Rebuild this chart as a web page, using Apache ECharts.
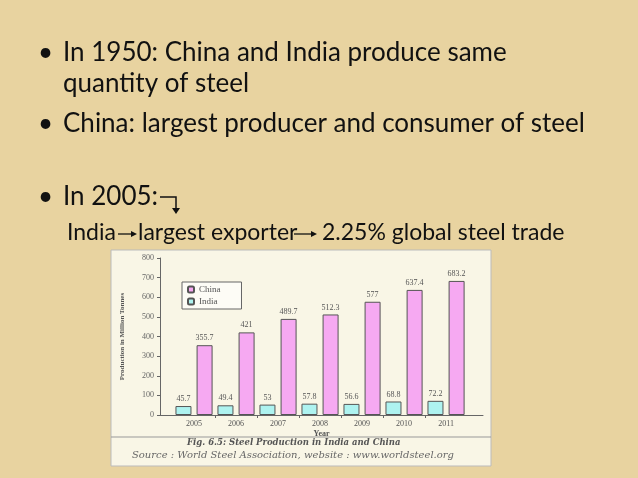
<!DOCTYPE html>
<html>
<head>
<meta charset="utf-8">
<script src="https://cdn.jsdelivr.net/npm/echarts@6/dist/echarts.min.js"></script>
<style>
html,body{margin:0;padding:0;background:#e8d3a0;}
#c{width:638px;height:478px;}
</style>
</head>
<body>
<div id="c"></div>
<script>
const years = [2005, 2006, 2007, 2008, 2009, 2010, 2011];
const china = [355.7, 421, 489.7, 512.3, 577, 637.4, 683.2];
const india = [45.7, 49.4, 53, 57.8, 56.6, 68.8, 72.2];
const yTicks = {min: 0, max: 800, interval: 100};

const slideFont = 'Lato';
const serif = 'Liberation Serif';
const chart = echarts.init(document.getElementById('c'));

function slideText(x, y, s, size) {
  return {type: 'text', left: x, top: y, style: {text: s, font: '400 ' + (size || 26) + 'px ' + slideFont, fill: '#111'}};
}
const pairs = arr => years.map((y, i) => [y, arr[i]]);
const barLabel = {show: true, position: 'top', fontFamily: serif, fontSize: 8, color: '#555', distance: 3,
  formatter: p => String(p.value[1])};

chart.setOption({
  backgroundColor: '#e8d3a0',
  animation: false,
  grid: {left: 160, top: 258, right: 155, bottom: 63},
  legend: {
    data: ['China', 'India'], orient: 'vertical', left: 182, top: 282,
    itemWidth: 6, itemHeight: 6, itemGap: 3,
    borderColor: '#666', borderWidth: 1, backgroundColor: '#fdfcf6',
    padding: [3, 21, 3, 5],
    textStyle: {fontFamily: serif, fontSize: 9, color: '#555'}
  },
  xAxis: {
    type: 'value', min: 2004.19, max: 2011.88,
    name: 'Year', nameLocation: 'middle', nameGap: 15,
    nameTextStyle: {fontFamily: serif, fontSize: 8, fontWeight: 'bold', color: '#555'},
    axisLine: {lineStyle: {color: '#666'}},
    axisTick: {show: true, length: 3, lineStyle: {color: '#666'},
      customValues: [2005.5, 2006.5, 2007.5, 2008.5, 2009.5, 2010.5]},
    splitLine: {show: false},
    axisLabel: {fontFamily: serif, fontSize: 8, color: '#555', margin: 5,
      customValues: years, formatter: v => String(v)}
  },
  yAxis: {
    type: 'value', min: yTicks.min, max: yTicks.max, interval: yTicks.interval,
    name: 'Production in Million Tonnes', nameLocation: 'middle', nameGap: 34,
    nameTextStyle: {fontFamily: serif, fontSize: 7, fontWeight: 'bold', color: '#555'},
    axisLine: {show: true, lineStyle: {color: '#666'}},
    axisTick: {show: true, length: 3, lineStyle: {color: '#666'}},
    splitLine: {show: false},
    axisLabel: {fontFamily: serif, fontSize: 8, color: '#666', margin: 6}
  },
  series: [
    {name: 'India', type: 'bar', data: pairs(india), barWidth: 16, barGap: '32%',
     itemStyle: {color: '#aef3f0', borderColor: '#555', borderWidth: 1}, label: barLabel},
    {name: 'China', type: 'bar', data: pairs(china), barWidth: 16,
     itemStyle: {color: '#f6a9f2', borderColor: '#555', borderWidth: 1}, label: barLabel}
  ],
  graphic: [
    {type: 'rect', z: -10, shape: {x: 111, y: 250, width: 380, height: 216},
     style: {fill: '#f9f6e6', stroke: '#bbb', lineWidth: 1}},
    {type: 'line', z: -9, shape: {x1: 111, y1: 437, x2: 491, y2: 437}, style: {stroke: '#999', lineWidth: 1}},
    {type: 'text', left: 187, top: 438, style: {text: 'Fig. 6.5: Steel Production in India and China', font: 'italic bold 8.5px DejaVu Serif', fill: '#555'}},
    {type: 'text', left: 132, top: 450, style: {text: 'Source : World Steel Association, website : www.worldsteel.org', font: 'italic 10px DejaVu Serif', fill: '#666'}},
    slideText(38, 40, '•'), slideText(63, 40, 'In 1950: China and India produce same'),
    slideText(63, 71, 'quantity of steel'),
    slideText(38, 111, '•'), slideText(63, 111, 'China: largest producer and consumer of steel'),
    slideText(38, 184, '•'), slideText(63, 184, 'In 2005:'),
    slideText(67, 221, 'India', 23), slideText(138, 221, 'largest exporter', 23), slideText(322, 221, '2.25% global steel trade', 23),
    // bent arrow
    {type: 'polyline', shape: {points: [[160, 197], [176, 197], [176, 210]]}, style: {stroke: '#111', lineWidth: 1.5, fill: null}},
    {type: 'polygon', shape: {points: [[172, 208], [180, 208], [176, 214]]}, style: {fill: '#111'}},
    // small arrows
    {type: 'line', shape: {x1: 118, y1: 234, x2: 133, y2: 234}, style: {stroke: '#111', lineWidth: 1.3}},
    {type: 'polygon', shape: {points: [[131, 231], [137, 234], [131, 237]]}, style: {fill: '#111'}},
    {type: 'line', shape: {x1: 294, y1: 234, x2: 313, y2: 234}, style: {stroke: '#111', lineWidth: 1.3}},
    {type: 'polygon', shape: {points: [[311, 231], [317, 234], [311, 237]]}, style: {fill: '#111'}}
  ]
});
</script>
</body>
</html>
